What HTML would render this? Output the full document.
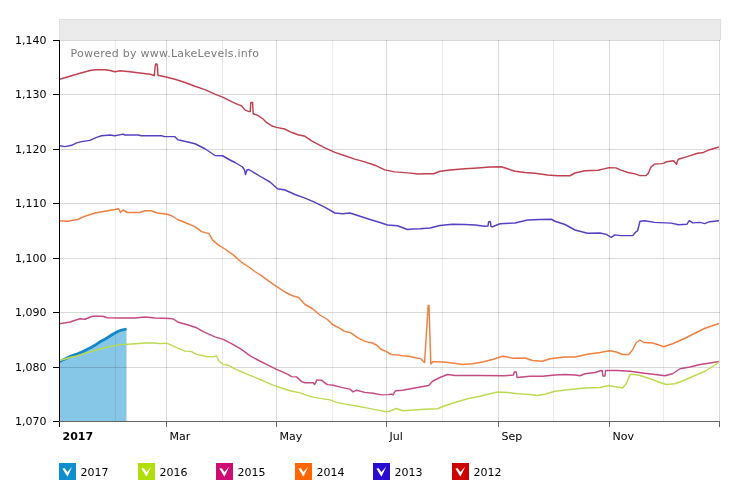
<!DOCTYPE html>
<html><head><meta charset="utf-8"><title>Lake Levels</title>
<style>html,body{margin:0;padding:0;background:#fff;}svg{display:block;will-change:transform;}</style></head>
<body><svg width="740" height="500" viewBox="0 0 740 500">
<rect x="59" y="19" width="662" height="21" fill="#ebebeb"/><path d="M59.5 40V19.5H720.5V40" fill="none" stroke="#dedede" stroke-width="1"/>
<polygon points="59.5,361.5 66,358.5 71.6,355.8 77.6,353.8 84.1,351 88.2,348.8 90.6,347.8 96.6,344.2 101.4,341 104.9,339.3 110.1,336 113.2,334 118.7,331 121.5,330.2 126.5,329 126.5,421 59.5,421" fill="#0d8ecf" fill-opacity="0.5"/>
<g stroke="#000" stroke-opacity="0.15" stroke-width="1"><line x1="115.5" y1="40" x2="115.5" y2="421" stroke-opacity="0.08"/><line x1="166.5" y1="40" x2="166.5" y2="421"/><line x1="222.5" y1="40" x2="222.5" y2="421" stroke-opacity="0.08"/><line x1="276.5" y1="40" x2="276.5" y2="421"/><line x1="332.5" y1="40" x2="332.5" y2="421" stroke-opacity="0.08"/><line x1="386.5" y1="40" x2="386.5" y2="421"/><line x1="442.5" y1="40" x2="442.5" y2="421" stroke-opacity="0.08"/><line x1="498.5" y1="40" x2="498.5" y2="421"/><line x1="553.5" y1="40" x2="553.5" y2="421" stroke-opacity="0.08"/><line x1="609.5" y1="40" x2="609.5" y2="421"/><line x1="663.5" y1="40" x2="663.5" y2="421" stroke-opacity="0.08"/><line x1="719.5" y1="40" x2="719.5" y2="421"/><line x1="59" y1="40.5" x2="720" y2="40.5" /><line x1="59" y1="94.5" x2="720" y2="94.5" /><line x1="59" y1="149.5" x2="720" y2="149.5" /><line x1="59" y1="203.5" x2="720" y2="203.5" /><line x1="59" y1="258.5" x2="720" y2="258.5" /><line x1="59" y1="312.5" x2="720" y2="312.5" /><line x1="59" y1="367.5" x2="720" y2="367.5" /></g>
<polyline points="59.5,361.5 66,358.5 71.6,355.8 77.6,353.8 84.1,351 88.2,348.8 90.6,347.8 96.6,344.2 101.4,341 104.9,339.3 110.1,336 113.2,334 118.7,331 121.5,330.2 126.5,329" fill="none" stroke="#1588c8" stroke-width="2.8" stroke-linejoin="round"/>
<polyline points="59.5,79.25 70,76.25 80,73.25 90,70.5 95,69.75 105,69.75 110,70.5 115,71.75 120,70.75 130,71.75 140,73 150,74.25 154.3,75.5 155.2,66 156,63.8 157,64.2 157.5,67 158,75.5 158.9,75.5 165,76.75 175,79.25 185,82.5 195,86.3 204.9,89.6 214.9,94.1 223.2,97.4 231.5,101.6 238.2,104.6 241.5,105.8 244.8,109.9 249,111.6 250.2,111.6 250.8,102.4 252.6,102.4 253.2,113.8 254,114 258.1,115.7 263.1,119 266.4,122.4 271.4,125.7 276.4,127.4 284.7,129 291.4,132.3 298,134.8 305,136.3 311.6,140.8 324.9,147.9 334.9,152.4 344.9,155.8 354.8,159.1 364.8,161.9 374.8,165.2 384.8,169.9 394.7,171.9 408,172.9 418,174 425,173.75 433.75,173.75 440,171.25 450,170 465,168.75 477.5,168 490,167 501.25,166.75 507.5,168.75 515,171.25 525,172.5 535,173.25 547.5,175 557.5,175.75 570,175.75 575,173 585,170.75 598,170.3 604,168.9 608.8,167.7 616,167.9 620.8,170.1 628,172.5 635.2,173.9 640,175.6 646,175.6 648.4,173.2 650.8,167.2 654.4,164.1 661.6,163.6 664,163.1 666.4,161.7 673.6,160.7 675.5,163 676.5,164.3 677.5,161 678.4,159.3 688,156.4 697.6,153.3 702.4,152.8 709.6,149.7 719,147" fill="none" stroke="#c04050" stroke-width="1.45" stroke-linejoin="round"/>
<polyline points="59.5,145.8 65,146.6 71.6,145.3 76.6,142.9 81.6,141.6 89.9,140.4 96.6,137.4 101.5,135.8 109.9,135 114.8,135.8 123.2,134.1 124.8,135 138.1,135 141.4,135.8 161.4,135.8 164.7,136.6 174.7,136.6 178,139.9 180,140.3 190,142.5 195,143.75 205,148.75 215,155.5 222.5,155.75 230,160 235,162.5 242.5,167 244.5,170 245.5,174.5 247,170 248.75,169.5 260,176.25 270,182 277.5,188.75 285,190 295,194.5 305,198.1 315,202.3 325,207.3 335,213 342.5,213.75 350,213 360,216.25 370,219.5 380,222.5 387.5,225 397.5,225.75 407.5,229.5 412.5,229 420,228.75 430,228 440,225.5 452.5,224.25 465,224.5 475,225 485,226.25 488,226 488.6,221.8 490.4,221.8 491,226.5 492.5,226.75 500,223.75 515,223 527.5,220 540,219.5 551.25,219.25 555,221.25 565,224.5 575,230 587.5,233.25 600,233 606.4,234.4 611.2,237.5 614.8,234.9 620.8,235.6 632.8,235.6 635.7,232 637.6,230.8 640,221.2 644.8,220.7 654.4,222.4 671.2,223.1 678.4,224.8 686.8,224.3 689.2,220.7 692.8,222.9 700,222.4 704.8,223.6 709.6,221.7 719,220.7" fill="none" stroke="#5540c4" stroke-width="1.45" stroke-linejoin="round"/>
<polyline points="59.5,220.75 67.5,221.25 77.5,219.5 85,216.25 95,213 105,211.25 115,209.5 118.75,208.75 120.5,212.5 123,210 127.5,212.5 140,212.5 145,210.75 151.25,210.75 157.5,213 167.5,214.25 172.5,216.25 177.5,219.5 185,222.5 195,226.6 201.6,231.6 209.1,233.6 212.4,239.9 218.2,244.9 224.9,249 233.2,254.9 241.5,262.3 248.1,266.5 254.8,271.5 261.4,275.6 268.1,280.6 276.4,286.4 285,292 292.5,295.75 298.75,297.5 305,304.5 312.5,308.75 320,315 327.5,319.5 332.5,324.5 340,328.4 344,331.1 350.8,332.8 357.6,337.6 361.6,339.6 365.7,341.6 372.4,343 376.5,345 380.5,349 386,351.4 391.4,354.5 396.8,354.9 402.2,355.8 408.9,356.2 415.7,357.8 421.1,358.9 423.8,361.9 424.6,362.5 428.2,305.5 429,305.5 430.8,364 433.2,361.6 442.5,362 452.5,363 462.5,364.5 472.5,363.75 482.5,362 492.5,359.5 502.5,356.25 507.5,357 512.5,358.25 525,358 532.5,360.5 542.5,361.25 550,358.75 565,357 575,357 587.5,354.25 600,352.5 610,350.75 616.25,352 622.5,354.5 628.75,354.5 632.5,350 636.25,342.5 640,340 643.75,342.5 652.5,343 657.5,344.5 663.75,346.75 672.5,343.75 685,338.25 695,333.25 705,328.25 719,323.5" fill="none" stroke="#ee8040" stroke-width="1.45" stroke-linejoin="round"/>
<polyline points="59.5,323.75 70,322 80,318.75 85,319.25 92.5,316.25 102.5,316.25 107.5,317.75 120,318 135,318 145,317 155,318 170,318.5 173.3,319 178.3,322.3 188.3,325 196.6,327.8 203.2,331.6 214.9,336.9 223.2,339.4 231.5,343.6 241.5,349.4 249.8,355.6 259.7,361 268,365.2 276.4,369.3 283,372.2 288.3,374.6 291.6,376.6 296.6,376.9 301.6,381.6 304.9,382.8 313.2,382.8 314.6,384.6 316.9,379.9 321.6,380.3 327.4,384.6 333.2,385.3 341.5,387.4 349.8,389.1 353.1,391.9 356.5,390.2 364.8,392.4 373.1,393.2 381.4,394.9 388,394.6 391.4,394.1 393,394.9 395.5,390.7 403,390.2 405,389.75 417.5,387.5 428.75,385.5 432.5,381.25 440,377.5 447.5,374.5 455,375.5 480,375.5 505,375.75 513.5,375 514.2,372 516.4,372 517,377.5 530,376.25 542.5,376.25 555,375 565,374.5 575,375 580,375.75 585,373.75 595,372.5 601.25,370.5 602.3,370.8 602.8,376 605,376 605.6,370.5 606.25,370.5 617.5,370.5 630,371.25 642.5,373 655,374.5 665,375.75 672.5,373.75 680,368.75 690,367 700,364.5 710,363 719,361.5" fill="none" stroke="#c44a82" stroke-width="1.45" stroke-linejoin="round"/>
<polyline points="59.5,360.5 70,357.5 77.6,355.7 88.4,352.4 99.2,349.2 110.1,346.5 120.9,344.6 131.7,344 135,343.75 145,343 155,343 160,343.6 166.6,343.2 176.6,347.7 184.9,351.1 191.6,351.6 196.6,354.4 206.5,356.5 213.2,356.9 216.5,356 219,361 223.2,364.4 228.2,365.2 234.8,368.8 246.4,373.8 259.7,379.3 273,385.1 283,388.5 290,390.7 300,392.9 311.6,396.9 321.6,398.6 329.9,399.9 336.5,402.4 346.5,404.4 356.5,406 366.4,407.9 376.4,409.9 384.7,411.5 389.7,411.2 396.4,408.5 403,410.7 410,410.25 425,409.25 437.5,408.75 445,405.75 455,402.5 467.5,398.75 480,396.25 490,393.75 497.5,392 507.5,392.5 517.5,393.75 530,394.5 537.5,395.5 545,394.25 555,391.25 570,389.5 585,388 600,387.5 608.75,385.5 622.5,388 626.25,383.75 630,374.5 635,374.5 640,375.5 650,378.75 660,382.5 666.25,384.5 675,383.75 685,380 695,375.5 705,371.25 715,365 719,362" fill="none" stroke="#bcda50" stroke-width="1.45" stroke-linejoin="round"/>
<line x1="59.5" y1="40" x2="59.5" y2="427" stroke="#000" stroke-width="1"/>
<line x1="59" y1="421.5" x2="720" y2="421.5" stroke="#666" stroke-width="1"/>
<g stroke="#000" stroke-width="1"><line x1="53" y1="40.5" x2="59" y2="40.5"/><line x1="53" y1="94.5" x2="59" y2="94.5"/><line x1="53" y1="149.5" x2="59" y2="149.5"/><line x1="53" y1="203.5" x2="59" y2="203.5"/><line x1="53" y1="258.5" x2="59" y2="258.5"/><line x1="53" y1="312.5" x2="59" y2="312.5"/><line x1="53" y1="367.5" x2="59" y2="367.5"/><line x1="53" y1="421.5" x2="59" y2="421.5"/></g>
<g stroke="#666" stroke-width="1"><line x1="166.5" y1="421" x2="166.5" y2="427"/><line x1="276.5" y1="421" x2="276.5" y2="427"/><line x1="386.5" y1="421" x2="386.5" y2="427"/><line x1="498.5" y1="421" x2="498.5" y2="427"/><line x1="609.5" y1="421" x2="609.5" y2="427"/><line x1="719.5" y1="421" x2="719.5" y2="427"/></g>
<g font-family="DejaVu Sans, Liberation Sans, sans-serif" font-size="11" fill="#000"><text x="46.5" y="43.8" text-anchor="end">1,140</text><text x="46.5" y="97.8" text-anchor="end">1,130</text><text x="46.5" y="152.8" text-anchor="end">1,120</text><text x="46.5" y="206.8" text-anchor="end">1,110</text><text x="46.5" y="261.8" text-anchor="end">1,100</text><text x="46.5" y="315.8" text-anchor="end">1,090</text><text x="46.5" y="370.8" text-anchor="end">1,080</text><text x="46.5" y="424.8" text-anchor="end">1,070</text><text x="169.5" y="440">Mar</text><text x="279.5" y="440">May</text><text x="389.5" y="440">Jul</text><text x="501.5" y="440">Sep</text><text x="612.5" y="440">Nov</text><text x="62.5" y="440" font-weight="bold">2017</text></g>
<text x="70.6" y="56.5" textLength="188.3" lengthAdjust="spacing" font-family="DejaVu Sans, Liberation Sans, sans-serif" font-size="11" fill="#7a7a7a">Powered by www.LakeLevels.info</text>
<rect x="59" y="463" width="17" height="17" fill="#0d8ecf"/><polygon points="62.4,468.6 64.8,468.2 67.4,472 72.1,466.8 67.7,476.3 67.1,476.3" fill="#fff"/><text x="80.5" y="476" font-family="DejaVu Sans, Liberation Sans, sans-serif" font-size="11" fill="#000">2017</text><rect x="138" y="463" width="17" height="17" fill="#b0de09"/><polygon points="141.4,468.6 143.8,468.2 146.4,472 151.1,466.8 146.7,476.3 146.1,476.3" fill="#fff"/><text x="159.5" y="476" font-family="DejaVu Sans, Liberation Sans, sans-serif" font-size="11" fill="#000">2016</text><rect x="216" y="463" width="17" height="17" fill="#cd0d74"/><polygon points="219.4,468.6 221.8,468.2 224.4,472 229.1,466.8 224.7,476.3 224.1,476.3" fill="#fff"/><text x="237.5" y="476" font-family="DejaVu Sans, Liberation Sans, sans-serif" font-size="11" fill="#000">2015</text><rect x="295" y="463" width="17" height="17" fill="#ff6600"/><polygon points="298.4,468.6 300.8,468.2 303.4,472 308.1,466.8 303.7,476.3 303.1,476.3" fill="#fff"/><text x="316.5" y="476" font-family="DejaVu Sans, Liberation Sans, sans-serif" font-size="11" fill="#000">2014</text><rect x="373" y="463" width="17" height="17" fill="#2a0cd0"/><polygon points="376.4,468.6 378.8,468.2 381.4,472 386.1,466.8 381.7,476.3 381.1,476.3" fill="#fff"/><text x="394.5" y="476" font-family="DejaVu Sans, Liberation Sans, sans-serif" font-size="11" fill="#000">2013</text><rect x="452" y="463" width="17" height="17" fill="#cc0000"/><polygon points="455.4,468.6 457.8,468.2 460.4,472 465.1,466.8 460.7,476.3 460.1,476.3" fill="#fff"/><text x="473.5" y="476" font-family="DejaVu Sans, Liberation Sans, sans-serif" font-size="11" fill="#000">2012</text>
</svg></body></html>
